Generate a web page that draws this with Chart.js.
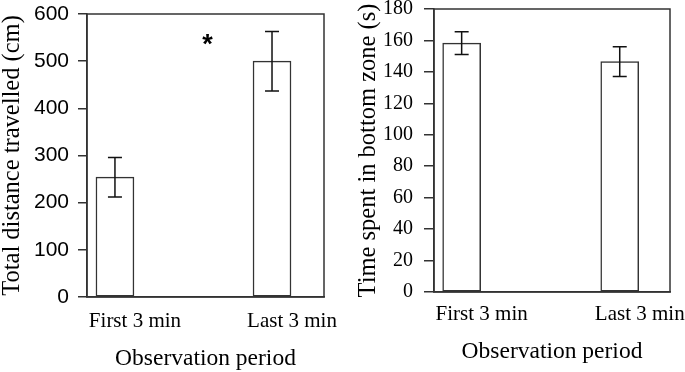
<!DOCTYPE html>
<html lang="en">
<head>
    <meta charset="UTF-8">
    <title>Observation period</title>
    <script src="https://cdn.jsdelivr.net/npm/chart.js@4.4.0/dist/chart.umd.min.js"></script>
    <style>
        body { margin: 0; background: #fff; }
        .wrap { position: absolute; top: -12px; width: 340px; height: 384px; }
        #w1 { left: 0; }
        #w2 { left: 345px; }
    </style>
</head>
<body>
    <div class="wrap" id="w1"><canvas id="distance" width="340" height="384"></canvas></div>
    <div class="wrap" id="w2"><canvas id="bottomzone" width="340" height="384"></canvas></div>
    <script>
        // shared categories
        let periods = ['First 3 min', 'Last 3 min'];
        let periodX = [0, 1];

        // left panel: total distance travelled (cm)
        let distMean = [254, 500];
        let distErr = [42, 63];
        let distTicks = [0, 100, 200, 300, 400, 500, 600];
        let sigMark = {text: '*', x: 0.59, y: 545};

        // right panel: time spent in bottom zone (s)
        let timeMean = [158.3, 146.5];
        let timeErr = [7.2, 9.5];
        let timeTicks = [0, 20, 40, 60, 80, 100, 120, 140, 160, 180];

        const ink = '#333';
        const serif = "'Liberation Serif', 'Times New Roman', serif";
        const sans = "'Liberation Sans', Arial, sans-serif";

        // draws frame, error bars and optional significance mark
        const extras = {
            id: 'extras',
            afterDatasetsDraw(chart, args, opts) {
                const ctx = chart.ctx;
                const xs = chart.scales.x, ys = chart.scales.y;
                const a = chart.chartArea;
                ctx.save();
                ctx.strokeStyle = ink;
                ctx.lineWidth = 1.5;
                ctx.strokeRect(a.left, a.top, a.right - a.left, a.bottom - a.top);

                ctx.strokeStyle = '#111';
                ctx.lineWidth = 1.5;
                opts.means.forEach((m, i) => {
                    const px = xs.getPixelForValue(periodX[i]);
                    const hi = ys.getPixelForValue(m + opts.errs[i]);
                    const lo = ys.getPixelForValue(m - opts.errs[i]);
                    ctx.beginPath();
                    ctx.moveTo(px, hi); ctx.lineTo(px, lo);
                    ctx.moveTo(px - 7, hi); ctx.lineTo(px + 7, hi);
                    ctx.moveTo(px - 7, lo); ctx.lineTo(px + 7, lo);
                    ctx.stroke();
                });

                if (opts.mark) {
                    ctx.fillStyle = '#000';
                    ctx.font = 'bold 27px ' + sans;
                    ctx.textAlign = 'center';
                    ctx.textBaseline = 'alphabetic';
                    ctx.fillText(opts.mark.text, xs.getPixelForValue(opts.mark.x), ys.getPixelForValue(opts.mark.y) + 13);
                }
                ctx.restore();
            }
        };

        function makeChart(id, cfg) {
            return new Chart(document.getElementById(id), {
                type: 'bar',
                data: {
                    datasets: [{
                        data: cfg.means.map((v, i) => ({x: periodX[i], y: v})),
                        backgroundColor: '#fff',
                        borderColor: ink,
                        borderWidth: 1.5,
                        borderSkipped: false,
                        barThickness: 38
                    }]
                },
                plugins: [extras],
                options: {
                    responsive: false,
                    animation: false,
                    layout: {padding: {top: cfg.top, right: cfg.right, left: 0, bottom: 0}},
                    plugins: {
                        legend: {display: false},
                        tooltip: {enabled: false},
                        extras: {means: cfg.means, errs: cfg.errs, mark: cfg.mark}
                    },
                    scales: {
                        x: {
                            type: 'linear',
                            offset: false,
                            min: cfg.xmin,
                            max: cfg.xmax,
                            afterBuildTicks: s => { s.ticks = periodX.map(v => ({value: v})); },
                            afterFit: s => { s.height = cfg.xh; },
                            grid: {display: false, offset: false},
                            border: {display: true, color: ink, width: 1.5},
                            ticks: {
                                callback: v => periods[v],
                                autoSkip: false,
                                maxRotation: 0,
                                labelOffset: 20,
                                padding: cfg.xlp,
                                color: '#000',
                                font: {family: serif, size: 21, lineHeight: 1.2}
                            },
                            title: {
                                display: true,
                                text: 'Observation period',
                                color: '#000',
                                font: {family: serif, size: 23.5, lineHeight: 1},
                                padding: {top: 0, bottom: cfg.xtp}
                            }
                        },
                        y: {
                            min: 0,
                            max: cfg.ticks[cfg.ticks.length - 1],
                            afterBuildTicks: s => { s.ticks = cfg.ticks.map(v => ({value: v})); },
                            afterFit: s => { s.width = cfg.yw; },
                            grid: {drawOnChartArea: false, drawTicks: true, tickLength: cfg.tl, color: ink, lineWidth: 1.5},
                            border: {display: true, color: ink, width: 1.5},
                            ticks: {
                                padding: cfg.tp,
                                color: '#000',
                                font: {family: cfg.tickFont, size: cfg.tickSize, lineHeight: 1}
                            },
                            title: {
                                display: true,
                                text: cfg.title,
                                color: '#000',
                                font: {family: serif, size: 24.5, lineHeight: 1},
                                padding: {top: cfg.titlePad, bottom: 0}
                            }
                        }
                    }
                }
            });
        }

        makeChart('distance', {
            means: distMean, errs: distErr, mark: sigMark, ticks: distTicks,
            title: 'Total distance travelled (cm)',
            top: 26, right: 16, xh: 75, yw: 87, tl: 9, tp: 9,
            xmin: -0.178, xmax: 1.331, xlp: 4, xtp: 1,
            tickFont: sans, tickSize: 21, titlePad: 0
        });

        makeChart('bottomzone', {
            means: timeMean, errs: timeErr, mark: null, ticks: timeTicks,
            title: 'Time spent in bottom zone (s)',
            top: 19, right: 15, xh: 80, yw: 89, tl: 10, tp: 11,
            xmin: -0.175, xmax: 1.318, xlp: 2, xtp: 8,
            tickFont: serif, tickSize: 20, titlePad: 11
        });
    </script>
</body>
</html>
